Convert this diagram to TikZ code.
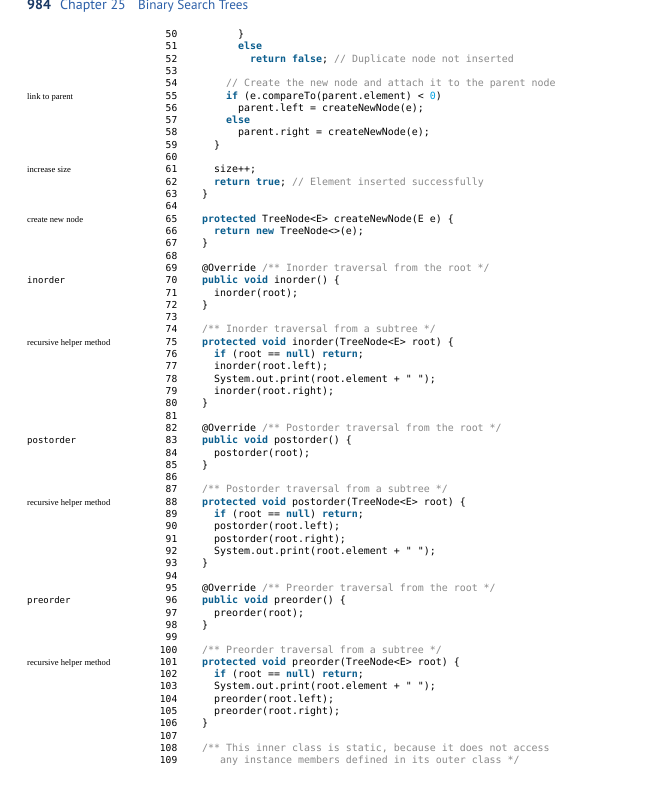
\documentclass[tikz,border=0pt]{standalone}
\usepackage{fontspec}
\setmainfont{Liberation Serif}
\setmonofont{DejaVu Sans Mono}
\newfontfamily\hdr{PT Sans}
\definecolor{kwc}{HTML}{0B5E8E}
\definecolor{cmc}{HTML}{8A8A8A}
\definecolor{numc}{HTML}{00A0E0}
\definecolor{hdrc}{HTML}{2B5FA8}
\newcommand{\kw}[1]{{\bfseries\color{kwc}#1}}
\newcommand{\cm}[1]{{\color{cmc}#1}}
\newcommand{\nm}[1]{{\color{numc}#1}}
\tikzset{
  code/.style={anchor=base west,inner sep=0pt,font=\ttfamily\fontsize{9.95}{11}\selectfont},
  lnum/.style={anchor=base east,inner sep=0pt,font=\ttfamily\fontsize{9.6}{10}\selectfont},
  mnote/.style={anchor=base west,inner sep=0pt,font=\fontsize{8.6}{9}\selectfont},
  mnotett/.style={anchor=base west,inner sep=0pt,font=\ttfamily\fontsize{9}{9}\selectfont}
}
\newcommand{\LL}[3]{%
  \node[lnum] (n#1) at (177.5,{37.5+(#1-50)*12.31}) {#1};
  \node[code] (c#1) at ({190+#2*6},{37.5+(#1-50)*12.31}) {#3};}
\newcommand{\ML}[3]{\node[#2] (m#1) at (27,{37.5+(#1-50)*12.31}) {#3};}
\begin{document}
\begin{tikzpicture}[x=1pt,y=-1pt]
\useasboundingbox[fill=white] (0,0) rectangle (653,789);
\node[anchor=base west,inner sep=0pt,font=\hdr\bfseries\fontsize{14}{14}\selectfont,color=hdrc!60!black] (pg) at (27,10) {984};
\node[anchor=base west,inner sep=0pt,font=\hdr\fontsize{14}{14}\selectfont,color=hdrc] (ch) at (60,10) {Chapter 25};
\node[anchor=base west,inner sep=0pt,font=\hdr\fontsize{13.2}{14}\selectfont,color=hdrc] (bt) at (138,10) {Binary Search Trees};
\LL{50}{8}{\}}
\LL{51}{8}{\kw{else}}
\LL{52}{10}{\kw{return} \kw{false}; \cm{// Duplicate node not inserted}}
\LL{53}{0}{}
\LL{54}{6}{\cm{// Create the new node and attach it to the parent node}}
\LL{55}{6}{\kw{if} (e.compareTo(parent.element) < \nm{0})}
\LL{56}{8}{parent.left = createNewNode(e);}
\LL{57}{6}{\kw{else}}
\LL{58}{8}{parent.right = createNewNode(e);}
\LL{59}{4}{\}}
\LL{60}{0}{}
\LL{61}{4}{size++;}
\LL{62}{4}{\kw{return} \kw{true}; \cm{// Element inserted successfully}}
\LL{63}{2}{\}}
\LL{64}{0}{}
\LL{65}{2}{\kw{protected} TreeNode<E> createNewNode(E e) \{}
\LL{66}{4}{\kw{return} \kw{new} TreeNode<>(e);}
\LL{67}{2}{\}}
\LL{68}{0}{}
\LL{69}{2}{@Override \cm{/** Inorder traversal from the root */}}
\LL{70}{2}{\kw{public} \kw{void} inorder() \{}
\LL{71}{4}{inorder(root);}
\LL{72}{2}{\}}
\LL{73}{0}{}
\LL{74}{2}{\cm{/** Inorder traversal from a subtree */}}
\LL{75}{2}{\kw{protected} \kw{void} inorder(TreeNode<E> root) \{}
\LL{76}{4}{\kw{if} (root == \kw{null}) \kw{return};}
\LL{77}{4}{inorder(root.left);}
\LL{78}{4}{System.out.print(root.element + " ");}
\LL{79}{4}{inorder(root.right);}
\LL{80}{2}{\}}
\LL{81}{0}{}
\LL{82}{2}{@Override \cm{/** Postorder traversal from the root */}}
\LL{83}{2}{\kw{public} \kw{void} postorder() \{}
\LL{84}{4}{postorder(root);}
\LL{85}{2}{\}}
\LL{86}{0}{}
\LL{87}{2}{\cm{/** Postorder traversal from a subtree */}}
\LL{88}{2}{\kw{protected} \kw{void} postorder(TreeNode<E> root) \{}
\LL{89}{4}{\kw{if} (root == \kw{null}) \kw{return};}
\LL{90}{4}{postorder(root.left);}
\LL{91}{4}{postorder(root.right);}
\LL{92}{4}{System.out.print(root.element + " ");}
\LL{93}{2}{\}}
\LL{94}{0}{}
\LL{95}{2}{@Override \cm{/** Preorder traversal from the root */}}
\LL{96}{2}{\kw{public} \kw{void} preorder() \{}
\LL{97}{4}{preorder(root);}
\LL{98}{2}{\}}
\LL{99}{0}{}
\LL{100}{2}{\cm{/** Preorder traversal from a subtree */}}
\LL{101}{2}{\kw{protected} \kw{void} preorder(TreeNode<E> root) \{}
\LL{102}{4}{\kw{if} (root == \kw{null}) \kw{return};}
\LL{103}{4}{System.out.print(root.element + " ");}
\LL{104}{4}{preorder(root.left);}
\LL{105}{4}{preorder(root.right);}
\LL{106}{2}{\}}
\LL{107}{0}{}
\LL{108}{2}{\cm{/** This inner class is static, because it does not access}}
\LL{109}{5}{\cm{any instance members defined in its outer class */}}
\ML{55}{mnote}{link to parent}
\ML{61}{mnote}{increase size}
\ML{65}{mnote}{create new node}
\ML{70}{mnotett}{inorder}
\ML{75}{mnote}{recursive helper method}
\ML{83}{mnotett}{postorder}
\ML{88}{mnote}{recursive helper method}
\ML{96}{mnotett}{preorder}
\ML{101}{mnote}{recursive helper method}
\end{tikzpicture}
\end{document}
